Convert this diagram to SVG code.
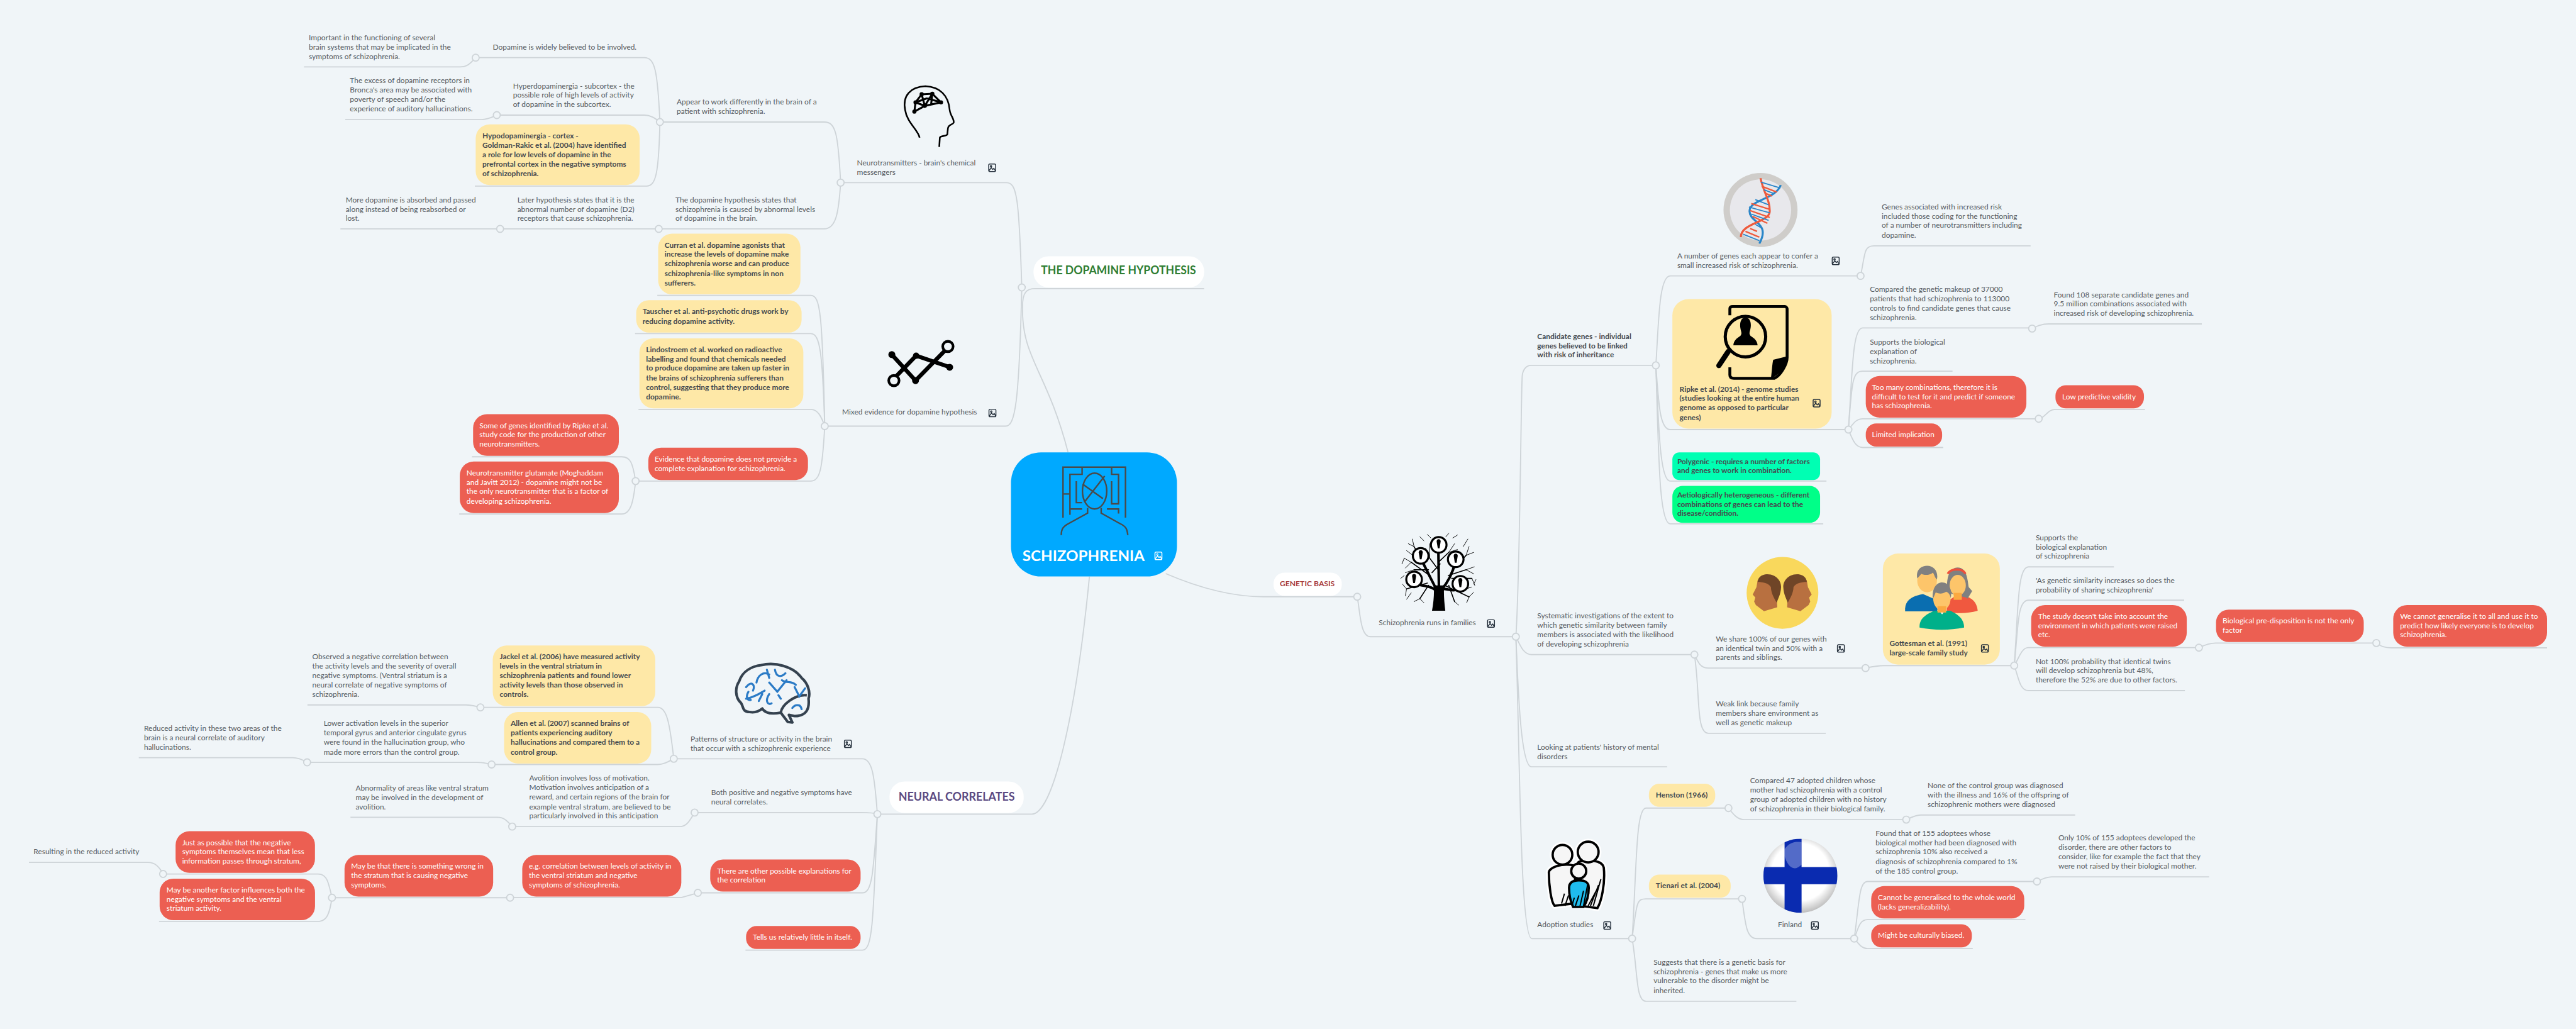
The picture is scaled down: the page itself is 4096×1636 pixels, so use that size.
<svg xmlns="http://www.w3.org/2000/svg" width="4096" height="1636" viewBox="0 0 4096 1636">
<style>
text{font-family:"Lato","Liberation Sans",sans-serif;font-size:13px;fill:#565b61}
.b{font-weight:700;fill:#464b50}
.w{fill:#fff}
.y{fill:#fee8a7}
.r{fill:#ec5f52}
.p{fill:#fff}
.c path{fill:none;stroke:#ced4d8;stroke-width:2}
.c circle{fill:#f0f5f8;stroke:#ced4d8;stroke-width:2}
.ic rect,.ic path,.ic circle{fill:none;stroke:#25303c;stroke-width:1.6}
</style>
<defs>
<g id="pic" class="ic"><rect x="-6" y="-6.5" width="12" height="13" rx="2"/><circle cx="-2" cy="-2.5" r="1.2"/><path d="M-5.5 5L-1.5 0L1 3L3 1L5.5 5"/></g>
<g id="picw"><rect x="-6" y="-6.5" width="12" height="13" rx="2" fill="none" stroke="#fff" stroke-width="1.6"/><circle cx="-2" cy="-2.5" r="1.2" fill="none" stroke="#fff" stroke-width="1.2"/><path d="M-5.5 5L-1.5 0L1 3L3 1L5.5 5" fill="none" stroke="#fff" stroke-width="1.6"/></g>
<radialGradient id="fg" cx="50%" cy="45%" r="55%"><stop offset="0.7" stop-color="#fff"/><stop offset="1" stop-color="#bdbdbd"/></radialGradient>
<clipPath id="fc"><circle cx="3113" cy="1514" r="64"/></clipPath>
<g id="twin"><path d="M3039 1003L3037 1015L3030.5 1028L3035 1033L3033 1040L3036 1046L3050 1056.7L3073 1050L3072 1030L3060 1000Z" fill="#b87040"/><path d="M3039 1006C3040 995 3050 992.7 3056 992.7C3072 993 3080 1005 3079.6 1015C3079 1028 3074 1035 3072 1042C3068 1035 3062 1025 3062 1015C3058 1008 3048 1006 3039 1006Z" fill="#6f4527"/></g>
</defs>
<rect width="4096" height="1636" fill="#f0f5f8"/>
<g transform="scale(0.91962)">
<g id="connectors" class="c">
<path d="M525.6 115.7H795C808 115.7 813 110 822.5 99.7"/>
<path d="M822.5 99.7H1114C1132 99.7 1137 120 1141 211"/>
<path d="M597 206.7H832C843 206.7 850 203 859 199"/>
<path d="M859 199H1114C1125 199 1132 204 1141 211"/>
<path d="M821 321.7H1118C1134 321.7 1139 300 1141 211"/>
<path d="M1141 211H1425C1445 211 1449 230 1453.5 315.7"/>
<path d="M588.6 395.7H1425C1445 395.7 1450 370 1453.5 315.7"/>
<path d="M1453.5 315.7H1740C1758 315.7 1762 340 1766.7 497"/>
<path d="M1426 736.7H1738.6C1755 736.7 1762 700 1766.7 497"/>
<path d="M1136.5 510.7H1402C1418 510.7 1422 540 1426 736.7"/>
<path d="M1098 576.7H1402C1418 576.7 1422 610 1426 736.7"/>
<path d="M1104 707.7H1402C1414 707.7 1420 720 1426 736.7"/>
<path d="M1099 831.7H1402C1418 831.7 1422 810 1426 736.7"/>
<path d="M816 789.7H1075C1090 789.7 1094 800 1099 831.7"/>
<path d="M794 888.7H1075C1090 888.7 1095 870 1099 831.7"/>
<path d="M1846.7 782C1810 640 1766 620 1768 530C1768 505 1775 499 1790 499H2082"/>
<path d="M1517 1407.5H1784C1820 1407.5 1860 1240 1883.7 996.7"/>
<path d="M1165 1311.8H1491C1508 1311.8 1512 1340 1517 1407.5"/>
<path d="M1201 1404.8H1490C1500 1404.8 1510 1405 1517 1407.5"/>
<path d="M1206.6 1543.6H1491C1508 1543.6 1510 1510 1517 1407.5"/>
<path d="M1289 1642.7H1491C1508 1642.7 1510 1600 1517 1407.5"/>
<path d="M830.7 1223H1137.5C1153 1223 1158 1250 1165 1311.8"/>
<path d="M850 1321.7H1137.5C1147 1321.7 1155 1317 1165 1311.8"/>
<path d="M531.6 1218.7H806C816 1218.7 822 1221 830.7 1223"/>
<path d="M531 1318H825C835 1318 842 1320 850 1321.7"/>
<path d="M240 1310H506C516 1310 524 1314 531 1318"/>
<path d="M606 1413H860C872 1413 878 1420 885.6 1429"/>
<path d="M885.6 1429H1175C1187 1429 1192 1420 1201 1404.8"/>
<path d="M1206.6 1543.6L1178.6 1551.6H882"/>
<path d="M574 1552H882"/>
<path d="M282 1511H550C565 1511 568 1525 574 1552"/>
<path d="M275 1593H550C565 1593 570 1580 574 1552"/>
<path d="M50 1491H256C268 1491 275 1498 282 1511"/>
<path d="M2015.7 991.7C2070 1015 2130 1031.7 2185 1031.7H2346.7"/>
<path d="M2346.7 1031.7C2352 1060 2352 1100.7 2369.6 1100.7H2620"/>
<path d="M2621 1100.7C2628 1000 2630 670 2632 650C2633 638 2640 631.7 2647 631.7H2863"/>
<path d="M2621 1100.7C2628 1115 2634 1131.7 2648 1131.7H2929.7"/>
<path d="M2621 1100.7C2625 1200 2630 1325.7 2648 1325.7H2882.5"/>
<path d="M2621 1100.7C2628 1300 2628 1622.7 2648.7 1622.7H2822"/>
<path d="M2863 631.7C2868 560 2868 477 2888 477H3217"/>
<path d="M3217 477C3225 440 3222 425 3240 425H3511"/>
<path d="M2863 631.7C2868 700 2870 742.7 2888 742.7H3196"/>
<path d="M2863 631.7C2868 740 2870 831.7 2888 831.7H3158"/>
<path d="M2863 631.7C2868 780 2868 905.7 2888 905.7H3152.5"/>
<path d="M3196 742.7C3203 640 3203 567 3220.6 567H3513.6"/>
<path d="M3513.6 568C3522 564 3530 560 3542 560H3807"/>
<path d="M3196 742.7C3202 660 3203 641.7 3220.6 641.7H3376"/>
<path d="M3196 742.7C3203 735 3208 724 3220.6 724H3525"/>
<path d="M3525 724C3535 724 3540 707.7 3553.4 707.7H3708.8"/>
<path d="M3196 742.7C3203 760 3208 773.7 3220.6 773.7H3360"/>
<path d="M2929.7 1131.7C2936 1145 2940 1155 2954 1155H3225.6"/>
<path d="M3225.6 1155C3235 1153 3245 1150.7 3257 1150.7H3482.7"/>
<path d="M2929.7 1131.7C2940 1200 2932 1267.7 2954 1267.7H3156.8"/>
<path d="M3482.7 1150.7C3490 1050 3488 980 3507.6 980H3655"/>
<path d="M3482.7 1150.7C3490 1080 3488 1037.7 3507.6 1037.7H3776.5"/>
<path d="M3482.7 1150.7C3490 1140 3495 1119.7 3507 1119.7H3802"/>
<path d="M3802 1119.7C3810 1116 3820 1111.7 3831 1111.7H4108.8"/>
<path d="M4108.8 1111.7C4115 1117 4125 1120 4135 1120H4404"/>
<path d="M3482.7 1150.7C3490 1170 3492 1194 3507 1194H3777.8"/>
<path d="M2822 1622.7C2830 1500 2828 1397 2846 1397H2988.6"/>
<path d="M2988.6 1397C2995 1405 3003 1417 3015.4 1417H3296"/>
<path d="M3296 1417C3305 1413 3313 1409 3321.5 1409H3588"/>
<path d="M2822 1622.7C2830 1560 2830 1554 2846 1554H3012"/>
<path d="M3012 1554C3018 1600 3020 1622.7 3037.7 1622.7H3206"/>
<path d="M3206 1622.7C3215 1560 3214 1524 3229 1524H3522"/>
<path d="M3522 1524C3530 1520 3538 1516 3548 1516H3819.7"/>
<path d="M3206 1622.7C3213 1605 3215 1590 3229 1590H3502"/>
<path d="M3206 1622.7C3213 1630 3218 1640 3229 1640H3411"/>
<path d="M2822 1622.7C2832 1680 2828 1731 2846 1731H3106"/>
<circle cx="822.5" cy="99.7" r="6"/><circle cx="859" cy="199" r="6"/><circle cx="1141" cy="211" r="6"/><circle cx="1453.5" cy="315.7" r="6"/><circle cx="864.7" cy="395.7" r="6"/><circle cx="1139" cy="395.7" r="6"/><circle cx="1766.7" cy="497" r="6"/><circle cx="1426" cy="736.7" r="6"/><circle cx="1099" cy="831.7" r="6"/>
<circle cx="1517" cy="1407.5" r="6"/><circle cx="1165" cy="1311.8" r="6"/><circle cx="1201" cy="1404.8" r="6"/><circle cx="1206.6" cy="1543.6" r="6"/><circle cx="830.7" cy="1223" r="6"/><circle cx="850" cy="1321.7" r="6"/><circle cx="531" cy="1318" r="6"/><circle cx="885.6" cy="1429" r="6"/><circle cx="882" cy="1552" r="6"/><circle cx="574" cy="1552" r="6"/><circle cx="282" cy="1511" r="6"/>
<circle cx="2346.7" cy="1031.7" r="6"/><circle cx="2621" cy="1100.7" r="6"/><circle cx="2863" cy="631.7" r="6"/><circle cx="3217" cy="477" r="6"/><circle cx="3196" cy="742.7" r="6"/><circle cx="3513.6" cy="568" r="6"/><circle cx="3525" cy="724" r="6"/><circle cx="2929.7" cy="1131.7" r="6"/><circle cx="3225.6" cy="1155" r="6"/><circle cx="3482.7" cy="1150.7" r="6"/><circle cx="3802" cy="1119.7" r="6"/><circle cx="4108.8" cy="1111.7" r="6"/><circle cx="2822" cy="1622.7" r="6"/><circle cx="2988.6" cy="1397" r="6"/><circle cx="3296" cy="1417" r="6"/><circle cx="3012" cy="1554" r="6"/><circle cx="3206" cy="1622.7" r="6"/><circle cx="3522" cy="1524" r="6"/>
</g>

<g id="root">
<rect x="1748" y="782" width="287" height="214.7" rx="52" fill="#00a9ff"/>
<g id="root-art" fill="none" stroke="#4a4a4a" stroke-width="2.6">
<path d="M1838 895V807.7H1946V895M1871 808V820H1850V890M1922 808V820H1934V871H1922V832M1861 832V869H1871M1838 854H1850M1850 880H1871M1914 880H1934V888"/>
<ellipse cx="1892.6" cy="849" rx="21" ry="31"/>
<path d="M1872 837L1907 862M1910 823L1875 868M1880.5 878V887L1848 905C1838 910 1835 915 1835 925M1904 878V887L1936 905C1947 910 1949 915 1950 925"/>
</g>
<text class="w" x="1768" y="970" style="font-size:25px;font-weight:700" textLength="211" lengthAdjust="spacingAndGlyphs">SCHIZOPHRENIA</text>
<use href="#picw" x="2003" y="961"/>
</g>

<g id="dopamine-hypothesis"><rect class="p" x="1787" y="443" width="295" height="54" rx="26"/><text x="1800" y="474" style="font-size:20px;font-weight:700;fill:#2e7d32" textLength="268" lengthAdjust="spacingAndGlyphs">THE DOPAMINE HYPOTHESIS</text></g>
<g id="neural-correlates"><rect class="p" x="1538" y="1351" width="232" height="54.5" rx="26"/><text x="1553.6" y="1384.5" style="font-size:20px;font-weight:700;fill:#5b4a82" textLength="201" lengthAdjust="spacingAndGlyphs">NEURAL CORRELATES</text></g>
<g id="genetic-basis"><rect class="p" x="2202" y="990" width="118" height="40" rx="19"/><text x="2212.8" y="1013.5" style="font-size:13px;font-weight:700;fill:#a83c3c" textLength="95" lengthAdjust="spacingAndGlyphs">GENETIC BASIS</text></g>

<g id="n-important"><text><tspan x="534" y="70">Important in  the functioning of several</tspan><tspan x="534" y="86">brain systems that may be implicated in the</tspan><tspan x="534" y="102">symptoms of schizophrenia.</tspan></text></g>
<g id="n-widely"><text x="852" y="86">Dopamine is widely believed to be involved.</text></g>
<g id="n-excess"><text><tspan x="605" y="144">The excess of dopamine receptors in</tspan><tspan x="605" y="160">Bronca's area may be associated with</tspan><tspan x="605" y="176">poverty of speech and/or the</tspan><tspan x="605" y="192.5">experience of auditory hallucinations.</tspan></text></g>
<g id="n-hyper"><text><tspan x="887" y="153">Hyperdopaminergia - subcortex - the</tspan><tspan x="887" y="169">possible role of high levels of activity</tspan><tspan x="887" y="185">of dopamine in the subcortex.</tspan></text></g>
<g id="n-hypo"><rect class="y" x="822.5" y="215" width="283.5" height="105" rx="24"/><text class="b"><tspan class="b" x="834" y="239">Hypodopaminergia - cortex -</tspan><tspan class="b" x="834" y="255">Goldman-Rakic et al. (2004) have identified</tspan><tspan class="b" x="834" y="271.5">a role for low levels of dopamine in the</tspan><tspan class="b" x="834" y="288">prefrontal cortex in the negative symptoms</tspan><tspan class="b" x="834" y="304">of schizophrenia.</tspan></text></g>
<g id="n-appear"><text><tspan x="1170" y="181">Appear to work differently in the brain of a</tspan><tspan x="1170" y="197">patient with schizophrenia.</tspan></text></g>
<g id="n-neuro">
<path d="M1590 238C1588 225 1568 212 1565 190C1560 165 1575 150 1600 149C1625 150 1640 165 1642 190C1643 200 1650 205 1649 212C1647 216 1640 215 1639 222L1638 232C1637 236 1626 234 1625 238L1624 254" fill="none" stroke="#000" stroke-width="2.8"/>
<path d="M1583 177L1593.6 163L1612 162L1627 177L1599 183L1583 177M1593.6 163L1599 183L1612 162M1603 170L1583 177M1603 170L1627 177M1599 183L1581 193L1583 177M1612 162L1610 180" fill="none" stroke="#000" stroke-width="3.4"/>
<g fill="#000"><circle cx="1593.6" cy="163" r="3.6"/><circle cx="1612" cy="162" r="3.6"/><circle cx="1627" cy="177" r="3.6"/><circle cx="1599" cy="183" r="3.6"/><circle cx="1581" cy="193" r="3.6"/><circle cx="1583" cy="177" r="3.6"/></g>
<text><tspan x="1481.7" y="286">Neurotransmitters - brain's chemical</tspan><tspan x="1481.7" y="302.5">messengers</tspan></text><use href="#pic" x="1715.5" y="290"/></g>
<g id="n-more"><text><tspan x="597.7" y="350">More dopamine is absorbed and passed</tspan><tspan x="597.7" y="366">along instead of being reabsorbed or</tspan><tspan x="597.7" y="382">lost.</tspan></text></g>
<g id="n-later"><text><tspan x="894.6" y="350">Later hypothesis states that it is the</tspan><tspan x="894.6" y="366">abnormal number of dopamine (D2)</tspan><tspan x="894.6" y="382">receptors that cause schizophrenia.</tspan></text></g>
<g id="n-states"><text><tspan x="1168" y="350">The dopamine hypothesis states that</tspan><tspan x="1168" y="366">schizophrenia is caused by abnormal levels</tspan><tspan x="1168" y="382">of dopamine in the brain.</tspan></text></g>
<g id="n-curran"><rect class="y" x="1138" y="404" width="246" height="105" rx="24"/><text><tspan class="b" x="1149" y="428">Curran et al. dopamine agonists that</tspan><tspan class="b" x="1149" y="444">increase the levels of dopamine make</tspan><tspan class="b" x="1149" y="460.5">schizophrenia worse and can produce</tspan><tspan class="b" x="1149" y="477.5">schizophrenia-like symptoms in non</tspan><tspan class="b" x="1149" y="493.5">sufferers.</tspan></text></g>
<g id="n-tauscher"><rect class="y" x="1100" y="519" width="286" height="56" rx="22"/><text><tspan class="b" x="1111" y="543">Tauscher et al. anti-psychotic drugs work by</tspan><tspan class="b" x="1111" y="559.5">reducing dopamine activity.</tspan></text></g>
<g id="n-lindo"><rect class="y" x="1105.6" y="585" width="283.4" height="121" rx="24"/><text><tspan class="b" x="1117" y="609">Lindostroem et al. worked on radioactive</tspan><tspan class="b" x="1117" y="625">labelling and found that chemicals needed</tspan><tspan class="b" x="1117" y="641">to produce dopamine are taken up faster in</tspan><tspan class="b" x="1117" y="658">the brains of schizophrenia sufferers than</tspan><tspan class="b" x="1117" y="674">control, suggesting that they produce more</tspan><tspan class="b" x="1117" y="690">dopamine.</tspan></text></g>
<g id="n-mixed">
<g fill="none" stroke="#000" stroke-width="7"><path d="M1542 613L1583 658L1634 606M1549 651L1584 615L1640 634"/><circle cx="1639" cy="599" r="9" stroke-width="4.5" fill="#f0f5f8"/><circle cx="1545.6" cy="658" r="9" stroke-width="4.5" fill="#f0f5f8"/></g>
<g fill="#000"><circle cx="1542" cy="613" r="6"/><circle cx="1583" cy="658" r="6"/><circle cx="1584" cy="615" r="5.5"/><circle cx="1642" cy="635" r="6"/></g>
<text x="1456" y="717">Mixed evidence for dopamine hypothesis</text><use href="#pic" x="1716" y="714"/></g>
<g id="n-evidence"><rect class="r" x="1121" y="774" width="276" height="56" rx="22"/><text><tspan class="w" x="1132" y="798">Evidence that dopamine does not provide a</tspan><tspan class="w" x="1132" y="814">complete explanation for schizophrenia.</tspan></text></g>
<g id="n-some"><rect class="r" x="818" y="716" width="252" height="72" rx="24"/><text><tspan class="w" x="829" y="740">Some of genes identified by Ripke et al.</tspan><tspan class="w" x="829" y="756">study code for the production of other</tspan><tspan class="w" x="829" y="772">neurotransmitters.</tspan></text></g>
<g id="n-glutamate"><rect class="r" x="795" y="798" width="275" height="89" rx="24"/><text><tspan class="w" x="806.7" y="822">Neurotransmitter glutamate (Moghaddam</tspan><tspan class="w" x="806.7" y="838">and Javitt 2012) - dopamine might not be</tspan><tspan class="w" x="806.7" y="854">the only neurotransmitter that is a factor of</tspan><tspan class="w" x="806.7" y="871">developing schizophrenia.</tspan></text></g>

<g id="n-observed"><text><tspan x="540" y="1139.7">Observed a negative correlation between</tspan><tspan x="540" y="1156">the activity levels and the severity of overall</tspan><tspan x="540" y="1172">negative symptoms. (Ventral striatum is a</tspan><tspan x="540" y="1189">neural correlate of negative symptoms of</tspan><tspan x="540" y="1205">schizophrenia.</tspan></text></g>
<g id="n-jackel"><rect class="y" x="852" y="1116" width="281" height="105" rx="24"/><text><tspan class="b" x="864" y="1139.7">Jackel et al. (2006) have measured activity</tspan><tspan class="b" x="864" y="1156">levels in the ventral striatum in</tspan><tspan class="b" x="864" y="1172">schizophrenia patients and found lower</tspan><tspan class="b" x="864" y="1189">activity levels than those observed in</tspan><tspan class="b" x="864" y="1205">controls.</tspan></text></g>
<g id="n-reduced"><text><tspan x="249" y="1264">Reduced activity in these two areas of the</tspan><tspan x="249" y="1280">brain is a neural correlate of auditory</tspan><tspan x="249" y="1296">hallucinations.</tspan></text></g>
<g id="n-lower"><text><tspan x="559.7" y="1255">Lower activation levels in the superior</tspan><tspan x="559.7" y="1271">temporal gyrus and anterior cingulate gyrus</tspan><tspan x="559.7" y="1287">were found in the hallucination group, who</tspan><tspan x="559.7" y="1304.5">made more errors than the control group.</tspan></text></g>
<g id="n-allen"><rect class="y" x="871.6" y="1231" width="254.4" height="89" rx="24"/><text><tspan class="b" x="883" y="1255">Allen et al. (2007) scanned brains of</tspan><tspan class="b" x="883" y="1271">patients experiencing auditory</tspan><tspan class="b" x="883" y="1287">hallucinations and compared them to a</tspan><tspan class="b" x="883" y="1304.5">control group.</tspan></text></g>
<g id="n-abnormality"><text><tspan x="615" y="1367">Abnormality of areas like ventral stratum</tspan><tspan x="615" y="1383">may be involved in the development of</tspan><tspan x="615" y="1399">avolition.</tspan></text></g>
<g id="n-avolition"><text><tspan x="915" y="1349.7">Avolition involves loss of motivation.</tspan><tspan x="915" y="1366">Motivation involves anticipation of a</tspan><tspan x="915" y="1382">reward, and certain regions of the brain for</tspan><tspan x="915" y="1399">example ventral stratum, are believed to be</tspan><tspan x="915" y="1415">particularly involved in this anticipation</tspan></text></g>
<g id="n-patterns">
<path d="M1296 1231C1282 1231 1286 1219 1280 1214C1272 1206 1270 1190 1278 1178C1284 1160 1300 1152 1316 1150C1340 1144 1372 1152 1386 1172C1396 1180 1402 1196 1398 1208C1400 1226 1394 1238 1374 1238L1364 1236L1370 1249L1362 1248L1350 1232C1340 1234 1325 1236 1318 1225C1310 1232 1302 1232 1296 1231Z" fill="#f0f5f8" stroke="#35424f" stroke-width="4.5" stroke-linejoin="round"/>
<path d="M1350 1232C1352 1218 1375 1200 1395 1202" fill="none" stroke="#35424f" stroke-width="4.5"/>
<path d="M1290 1188C1300 1176 1306 1184 1302 1194M1290 1208C1302 1206 1312 1200 1322 1194M1308 1180C1310 1168 1320 1160 1330 1166M1326 1158L1330 1172M1340 1158C1342 1170 1350 1172 1358 1164M1330 1180L1344 1196L1360 1176M1352 1176C1360 1182 1368 1176 1376 1184M1318 1200L1312 1212M1330 1200C1322 1212 1328 1220 1334 1216M1374 1188L1382 1204L1392 1190M1370 1224C1374 1218 1384 1216 1386 1226M1346 1202L1350 1208M1294 1196C1288 1206 1294 1212 1298 1210" fill="none" stroke="#2b7bc6" stroke-width="3.5" stroke-linecap="round"/>
<text><tspan x="1194" y="1282">Patterns of structure or activity in the brain</tspan><tspan x="1194" y="1298">that occur with a schizophrenic experience</tspan></text><use href="#pic" x="1466" y="1286"/></g>
<g id="n-both"><text><tspan x="1229.6" y="1374.5">Both positive and negative symptoms have</tspan><tspan x="1229.6" y="1391">neural correlates.</tspan></text></g>
<g id="n-other"><rect class="r" x="1228" y="1486" width="260" height="55.5" rx="22"/><text><tspan class="w" x="1240" y="1510">There are other possible explanations for</tspan><tspan class="w" x="1240" y="1526">the correlation</tspan></text></g>
<g id="n-tells"><rect class="r" x="1290" y="1601" width="198" height="39.7" rx="18"/><text class="w" x="1301.7" y="1625">Tells us relatively little in itself.</text></g>
<g id="n-eg"><rect class="r" x="903" y="1478" width="275" height="72" rx="24"/><text><tspan class="w" x="914.6" y="1502">e.g. correlation between levels of activity in</tspan><tspan class="w" x="914.6" y="1518">the ventral striatum and negative</tspan><tspan class="w" x="914.6" y="1534">symptoms of schizophrenia.</tspan></text></g>
<g id="n-maybe"><rect class="r" x="595.7" y="1478" width="257" height="72" rx="24"/><text><tspan class="w" x="607" y="1502">May be that there is something wrong in</tspan><tspan class="w" x="607" y="1518">the stratum that is causing negative</tspan><tspan class="w" x="607" y="1534">symptoms.</tspan></text></g>
<g id="n-just"><rect class="r" x="303.6" y="1437" width="241" height="72" rx="24"/><text><tspan class="w" x="315" y="1461">Just as possible that the negative</tspan><tspan class="w" x="315" y="1477">symptoms themselves mean that less</tspan><tspan class="w" x="315" y="1493">information passes through stratum,</tspan></text></g>
<g id="n-another"><rect class="r" x="276" y="1519" width="268.7" height="72" rx="24"/><text><tspan class="w" x="288" y="1543">May be another factor influences both the</tspan><tspan class="w" x="288" y="1559">negative symptoms and the ventral</tspan><tspan class="w" x="288" y="1575">striatum activity.</tspan></text></g>
<g id="n-resulting"><text x="58" y="1477">Resulting in the reduced activity</text></g>

<g id="n-families">
<path d="M2476 1056C2479 1040 2480 1025 2479 1012H2497C2496 1025 2497 1040 2499 1056Z" fill="#000"/>
<g fill="none" stroke="#000" stroke-linecap="round">
<path d="M2484 1020C2474 1000 2466 985 2458 968M2488 1020L2487 950M2492 1020C2505 1005 2512 990 2516 972M2482 1020C2470 1010 2458 1015 2447 1008M2494 1018C2505 1018 2515 1025 2525 1015" stroke-width="4.5"/>
<path d="M2472 995L2440 972M2476 990L2490 975M2487 985L2472 965M2504 995L2535 985M2510 1000L2545 1000M2468 1008L2432 1018M2498 1012L2540 1032M2470 985L2445 985M2512 985L2535 960M2487 972L2505 955M2462 975L2445 945M2505 1012L2515 1040M2470 1012L2455 1035" stroke-width="1.8"/>
<path d="M2440 972L2428 965M2440 972L2430 982M2445 985L2430 990M2432 1018L2425 1010M2432 1018L2430 1030M2455 1035L2445 1040M2455 1035L2462 1042M2445 945L2435 940M2445 945L2442 932M2535 960L2548 955M2535 960L2540 945M2535 985L2549 980M2535 985L2548 992M2545 1000L2550 1012M2540 1032L2548 1024M2540 1032L2536 1042M2515 1040L2522 1046M2505 955L2515 940M2505 955L2520 950M2472 965L2465 948M2472 965L2472 940M2428 965L2424 975M2443 960L2432 952M2530 945L2538 932M2462 935L2455 928M2512 930L2520 925M2474 930L2468 924M2500 928L2505 922M2428 995L2422 1000M2548 1010L2552 1002M2440 1025L2432 1036M2530 1020L2544 1015" stroke-width="1"/>
</g>
<g fill="#fff" stroke="#000" stroke-width="3.5"><circle cx="2487.6" cy="942" r="13.5"/><circle cx="2456.4" cy="961" r="13.5"/><circle cx="2517" cy="967" r="13.5"/><circle cx="2445" cy="1001.7" r="13.5"/><circle cx="2525" cy="1009.3" r="13.5"/></g>
<g fill="#000"><path d="M2484 936C2484 931 2491 931 2491 936L2489 948H2486Z"/><path d="M2453 955C2453 950 2460 950 2460 955L2458 967H2455Z"/><path d="M2513.5 961C2513.5 956 2520.5 956 2520.5 961L2518.5 973H2515.5Z"/><path d="M2441.5 996C2441.5 991 2448.5 991 2448.5 996L2446.5 1008H2443.5Z"/><path d="M2521.5 1003C2521.5 998 2528.5 998 2528.5 1003L2526.5 1015H2523.5Z"/></g>
<text x="2384" y="1081">Schizophrenia runs in families</text><use href="#pic" x="2578" y="1078"/></g>

<g id="n-candidate"><text><tspan class="b" x="2658" y="586">Candidate genes - individual</tspan><tspan class="b" x="2658" y="602">genes believed to be linked</tspan><tspan class="b" x="2658" y="618">with risk of inheritance</tspan></text></g>
<g id="n-number">
<circle cx="3044" cy="363" r="64" fill="#cfcdca"/><circle cx="3044" cy="363" r="53" fill="#e8e8ec"/>
<path d="M3079 320C3070 345 3025 345 3025 365C3025 385 3062 385 3042 421" fill="none" stroke="#2a86c9" stroke-width="3.5"/>
<path d="M3044 308C3050 335 3060 345 3060 365C3060 385 3010 385 3010 410" fill="none" stroke="#ee5a3c" stroke-width="3.5"/>
<path d="M3046 322L3072 332M3052 334L3064 339M3028 352L3060 362M3026 364L3060 376M3030 374L3056 386M3026 395L3038 400M3018 400L3042 410" fill="none" stroke="#ee5a3c" stroke-width="2.5"/>
<path d="M3045 315L3078 325M3050 328L3068 335M3035 345L3058 354M3024 358L3060 368M3028 370L3058 381M3035 388L3046 394M3014 405L3042 416" fill="none" stroke="#2a86c9" stroke-width="2"/>
<text><tspan x="2900" y="447">A number of genes each appear to confer a</tspan><tspan x="2900" y="463">small increased risk of schizophrenia.</tspan></text><use href="#pic" x="3174" y="451"/></g>
<g id="n-genes"><text><tspan x="3253.5" y="362">Genes associated with increased risk</tspan><tspan x="3253.5" y="378">included those coding for the functioning</tspan><tspan x="3253.5" y="394">of a number of neurotransmitters including</tspan><tspan x="3253.5" y="411">dopamine.</tspan></text></g>
<g id="n-ripke"><rect class="y" x="2891.6" y="517" width="275.4" height="224" rx="28"/>
<path d="M2991 545V534C2991 531 2993 530 2996 530H3086C3088 530 3090 532 3090 534V618C3090 630 3078 650 3068 654H2998C2993 654 2991 652 2991 648V635" fill="none" stroke="#000" stroke-width="5"/>
<path d="M3062 654C3064 640 3064 630 3066 622L3090 616C3090 630 3076 650 3062 654Z" fill="#000"/>
<circle cx="3018" cy="582" r="35" fill="#fee8a7" stroke="#000" stroke-width="5.5"/>
<path d="M2988 608L2972 632" stroke="#000" stroke-width="9" stroke-linecap="round"/>
<path d="M3018 549C3026 549 3028 558 3027 566C3026 574 3023 576 3027 581C3033 585 3038 588 3039 597H2997C2998 588 3003 585 3009 581C3013 576 3010 574 3009 566C3008 558 3010 549 3018 549Z" fill="#000"/>
<text><tspan class="b" x="2904" y="677">Ripke et al. (2014) - genome studies</tspan><tspan class="b" x="2904" y="693">(studies looking at the entire human</tspan><tspan class="b" x="2904" y="709">genome as opposed to particular</tspan><tspan class="b" x="2904" y="726">genes)</tspan></text><use href="#pic" x="3141" y="697"/></g>
<g id="n-compared"><text><tspan x="3233" y="504.5">Compared the genetic makeup of 37000</tspan><tspan x="3233" y="521">patients that had schizophrenia to 113000</tspan><tspan x="3233" y="537.5">controls to find candidate genes that cause</tspan><tspan x="3233" y="554">schizophrenia.</tspan></text></g>
<g id="n-found"><text><tspan x="3551" y="514">Found 108 separate candidate genes and</tspan><tspan x="3551" y="530">9.5 million combinations associated with</tspan><tspan x="3551" y="546">increased risk of developing schizophrenia.</tspan></text></g>
<g id="n-supports1"><text><tspan x="3233" y="596">Supports the biological</tspan><tspan x="3233" y="612">explanation of</tspan><tspan x="3233" y="628">schizophrenia.</tspan></text></g>
<g id="n-toomany"><rect class="r" x="3226" y="650" width="277.7" height="72" rx="24"/><text><tspan class="w" x="3236.7" y="674">Too many combinations, therefore it is</tspan><tspan class="w" x="3236.7" y="690">difficult to test for it and predict if someone</tspan><tspan class="w" x="3236.7" y="706">has schizophrenia.</tspan></text></g>
<g id="n-low"><rect class="r" x="3554" y="666" width="153" height="40" rx="18"/><text class="w" x="3565.7" y="690">Low predictive validity</text></g>
<g id="n-limited"><rect class="r" x="3226" y="732" width="132" height="40" rx="18"/><text class="w" x="3236.7" y="756">Limited implication</text></g>
<g id="n-poly"><rect x="2891.6" y="782" width="255.4" height="48" rx="12" fill="#00ffb3"/><text><tspan class="b" x="2900" y="802">Polygenic - requires a number of factors</tspan><tspan class="b" x="2900" y="818">and genes to work in combination.</tspan></text></g>
<g id="n-aetio"><rect x="2891.6" y="840" width="255.4" height="64" rx="18" fill="#00ff88"/><text><tspan class="b" x="2900" y="860">Aetiologically heterogeneous - different</tspan><tspan class="b" x="2900" y="876">combinations of genes can lead to the</tspan><tspan class="b" x="2900" y="892">disease/condition.</tspan></text></g>

<g id="n-systematic"><text><tspan x="2658" y="1069">Systematic investigations of the extent to</tspan><tspan x="2658" y="1085">which genetic similarity between family</tspan><tspan x="2658" y="1101">members is associated with the likelihood</tspan><tspan x="2658" y="1118">of developing schizophrenia</tspan></text></g>
<g id="n-share"><circle cx="3082" cy="1025" r="62" fill="#f9d85c"/>
<use href="#twin"/><use href="#twin" transform="translate(6163 0) scale(-1 1)"/>
<text><tspan x="2966.7" y="1108.7">We share 100% of our genes with</tspan><tspan x="2966.7" y="1125">an identical twin and 50% with a</tspan><tspan x="2966.7" y="1141">parents and siblings.</tspan></text><use href="#pic" x="3183" y="1121"/></g>
<g id="n-gottesman"><rect class="y" x="3255.6" y="957" width="202.2" height="192" rx="26"/>
<path d="M3294 1052C3295 1035 3310 1030 3325 1027L3355 1040L3349 1057L3294 1057Z" fill="#0a6eb0"/>
<path d="M3366 1040L3385 1028C3405 1030 3418 1038 3419.5 1056C3400 1062 3380 1060 3366 1058Z" fill="#f0583f"/>
<ellipse cx="3332" cy="1004" rx="17" ry="20" fill="#fdc56a"/><path d="M3315 1000C3312 985 3322 978 3332 978C3344 978 3352 988 3349 1002C3345 998 3344 992 3342 990C3335 996 3325 994 3322 992C3320 995 3317 998 3315 1000Z" fill="#808080"/>
<path d="M3385 981C3400 981 3402 1000 3404 1015L3410 1022L3402 1035C3398 1030 3370 1030 3367 1020C3365 1000 3370 981 3385 981Z" fill="#808080"/><path d="M3368 992C3372 982 3395 982 3398 992" fill="none" stroke="#ef4f3a" stroke-width="4"/><ellipse cx="3385" cy="1012" rx="14" ry="18" fill="#fdc56a"/><rect x="3378" y="1025" width="14" height="12" fill="#fba941"/>
<path d="M3319 1085C3318 1070 3330 1062 3345 1056L3372 1056C3385 1062 3396 1070 3396 1085C3370 1090 3345 1090 3319 1085Z" fill="#00b08a"/><path d="M3349 1052L3358 1062L3366 1052Z" fill="#fff"/>
<ellipse cx="3357.6" cy="1035" rx="15" ry="20" fill="#fdc56a"/><rect x="3350" y="1048" width="15" height="11" fill="#fba941"/><path d="M3342 1035C3340 1018 3348 1007 3358 1007C3370 1007 3376 1020 3373 1034C3371 1026 3368 1024 3365 1023C3358 1028 3350 1026 3347 1024C3345 1028 3344 1032 3342 1035Z" fill="#808080"/>
<text><tspan class="b" x="3267" y="1116.7">Gottesman et al. (1991)</tspan><tspan class="b" x="3267" y="1133">large-scale family study</tspan></text><use href="#pic" x="3432" y="1121"/></g>
<g id="n-supports2"><text><tspan x="3519.8" y="934">Supports the</tspan><tspan x="3519.8" y="950">biological explanation</tspan><tspan x="3519.8" y="966">of schizophrenia</tspan></text></g>
<g id="n-as"><text><tspan x="3519.8" y="1008">'As genetic similarity increases so does the</tspan><tspan x="3519.8" y="1024">probability of sharing schizophrenia'</tspan></text></g>
<g id="n-study"><rect class="r" x="3512" y="1046" width="269" height="72" rx="24"/><text><tspan class="w" x="3524" y="1070">The study doesn't take into account the</tspan><tspan class="w" x="3524" y="1086">environment in which patients were raised</tspan><tspan class="w" x="3524" y="1102">etc.</tspan></text></g>
<g id="n-bio"><rect class="r" x="3831.6" y="1054" width="255.4" height="56" rx="22"/><text><tspan class="w" x="3843" y="1078">Biological pre-disposition is not the only</tspan><tspan class="w" x="3843" y="1094">factor</tspan></text></g>
<g id="n-cannot"><rect class="r" x="4138" y="1046" width="266" height="72" rx="24"/><text><tspan class="w" x="4149.7" y="1070">We cannot generalise it to all and use it to</tspan><tspan class="w" x="4149.7" y="1086">predict how likely everyone is to develop</tspan><tspan class="w" x="4149.7" y="1102">schizophrenia.</tspan></text></g>
<g id="n-not100"><text><tspan x="3519.8" y="1148">Not 100% probability that identical twins</tspan><tspan x="3519.8" y="1164">will develop schizophrenia but 48%,</tspan><tspan x="3519.8" y="1180">therefore the 52% are due to other factors.</tspan></text></g>
<g id="n-weak"><text><tspan x="2966.7" y="1221.7">Weak link because family</tspan><tspan x="2966.7" y="1238">members share environment as</tspan><tspan x="2966.7" y="1254">well as genetic makeup</tspan></text></g>
<g id="n-looking"><text><tspan x="2658" y="1296">Looking at patients' history of mental</tspan><tspan x="2658" y="1312">disorders</tspan></text></g>

<g id="n-adoption">
<g fill="#fff" stroke="#fff" stroke-width="10" stroke-linejoin="round">
<path d="M2728 1492C2730 1486 2770 1484 2773 1500C2776 1530 2768 1560 2762 1570L2725 1565Z"/><circle cx="2746" cy="1473" r="18"/>
<path d="M2678 1508C2680 1495 2720 1490 2724 1500L2722 1562L2688 1566C2682 1560 2678 1530 2678 1508Z"/><circle cx="2701.6" cy="1477.7" r="17"/></g>
<g fill="#f6f6f6" stroke="#000" stroke-width="4">
<path d="M2728 1492C2730 1486 2770 1484 2773 1500C2776 1530 2768 1560 2762 1570L2725 1565Z"/><circle cx="2746" cy="1473" r="18"/>
<path d="M2678 1508C2680 1495 2720 1490 2724 1500L2722 1562L2688 1566C2682 1560 2678 1530 2678 1508Z"/><circle cx="2701.6" cy="1477.7" r="17"/>
<circle cx="2729.7" cy="1506" r="13"/></g>
<path d="M2713 1535C2713 1525 2720 1522 2730 1522C2742 1522 2747 1526 2747 1535C2747 1550 2742 1562 2738 1568H2720C2716 1560 2713 1550 2713 1535Z" fill="#1fbcee" stroke="#000" stroke-width="4"/>
<path d="M2705 1545L2700 1562M2712 1548L2706 1566M2722 1552L2718 1566M2730 1548L2724 1566M2738 1540L2732 1566M2768 1520L2755 1566M2764 1530L2750 1566M2760 1540L2746 1566M2745 1530L2738 1566" stroke="#000" stroke-width="2.2" fill="none"/>
<text x="2658" y="1603">Adoption studies</text><use href="#pic" x="2779" y="1600"/></g>
<g id="n-henston"><rect class="y" x="2851" y="1355" width="114.7" height="40" rx="18"/><text class="b" x="2863" y="1379">Henston (1966)</text></g>
<g id="n-compared47"><text><tspan x="3026" y="1354">Compared 47 adopted children whose</tspan><tspan x="3026" y="1370">mother had schizophrenia with a control</tspan><tspan x="3026" y="1386">group of adopted children with no history</tspan><tspan x="3026" y="1403">of schizophrenia in their biological family.</tspan></text></g>
<g id="n-none"><text><tspan x="3333" y="1363">None of the control group was diagnosed</tspan><tspan x="3333" y="1379">with the illness and 16% of the offspring of</tspan><tspan x="3333" y="1395">schizophrenic  mothers were diagnosed</tspan></text></g>
<g id="n-tienari"><rect class="y" x="2851" y="1512" width="141.4" height="40" rx="18"/><text class="b" x="2863" y="1535.5">Tienari et al. (2004)</text></g>
<g id="n-finland"><circle cx="3113" cy="1514" r="64" fill="url(#fg)"/><g clip-path="url(#fc)"><rect x="3085.6" y="1450" width="29.4" height="128" fill="#0a2bb0"/><rect x="3049" y="1499" width="128" height="29.7" fill="#0a2bb0"/><path d="M3085.6 1468C3095 1455 3105 1455 3115 1456V1495C3100 1510 3090 1495 3085.6 1480Z" fill="#fff" opacity=".3"/></g>
<text x="3074" y="1603">Finland</text><use href="#pic" x="3138" y="1600"/></g>
<g id="n-foundthat"><text><tspan x="3243" y="1444.7">Found that of 155 adoptees whose</tspan><tspan x="3243" y="1461">biological mother had been diagnosed with</tspan><tspan x="3243" y="1477">schizophrenia  10% also received a</tspan><tspan x="3243" y="1494">diagnosis of schizophrenia compared to 1%</tspan><tspan x="3243" y="1510">of the 185 control group.</tspan></text></g>
<g id="n-only"><text><tspan x="3559" y="1452.7">Only 10% of 155 adoptees developed the</tspan><tspan x="3559" y="1469">disorder, there are other factors to</tspan><tspan x="3559" y="1485">consider, like for example the fact that they</tspan><tspan x="3559" y="1502">were not raised by their biological mother.</tspan></text></g>
<g id="n-general"><rect class="r" x="3235.4" y="1532" width="264.6" height="56" rx="22"/><text><tspan class="w" x="3247" y="1555.7">Cannot be generalised to the whole world</tspan><tspan class="w" x="3247" y="1572">(lacks generalizability).</tspan></text></g>
<g id="n-might"><rect class="r" x="3235.4" y="1598" width="174" height="40" rx="18"/><text class="w" x="3247" y="1621.7">Might be culturally biased.</text></g>
<g id="n-suggests"><text><tspan x="2859" y="1667.7">Suggests that there is a genetic basis for</tspan><tspan x="2859" y="1684">schizophrenia - genes that make us more</tspan><tspan x="2859" y="1700">vulnerable to the disorder might be</tspan><tspan x="2859" y="1717">inherited.</tspan></text></g>
</g>
</svg>
